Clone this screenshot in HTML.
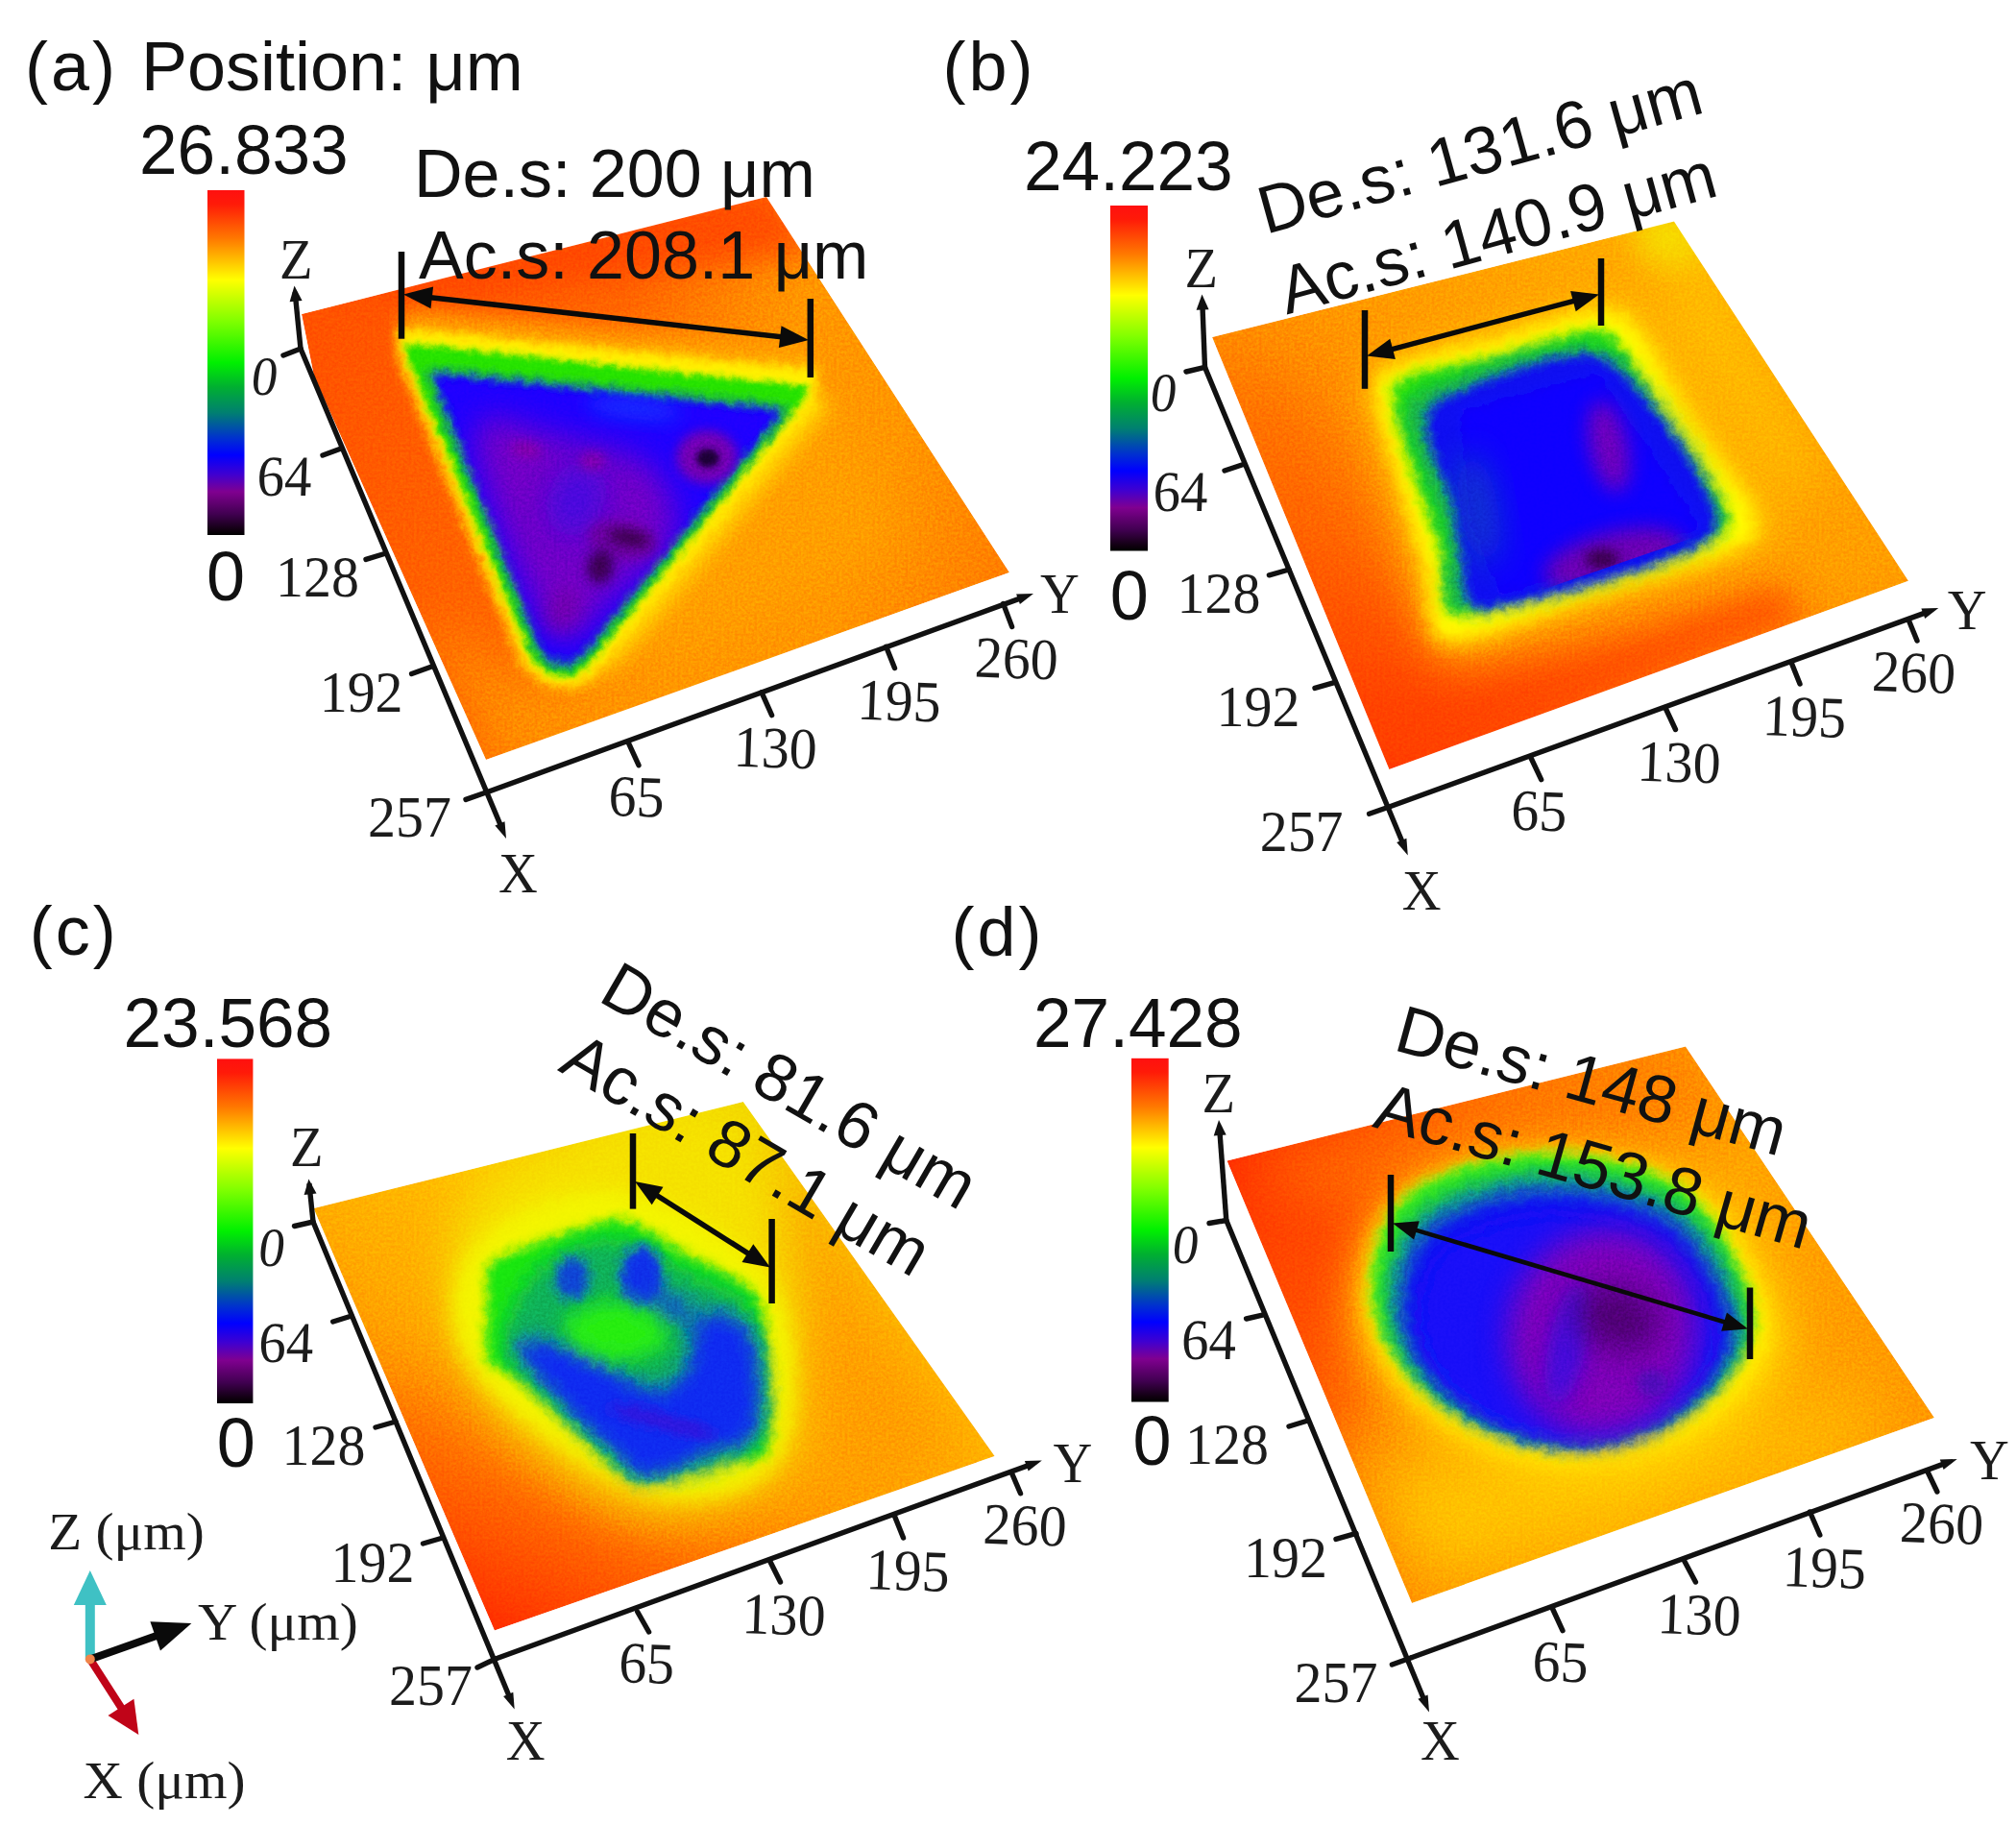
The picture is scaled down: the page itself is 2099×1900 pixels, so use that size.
<!DOCTYPE html>
<html lang="en"><head><meta charset="utf-8"><title>Figure</title>
<style>
html,body{margin:0;padding:0;background:#fff;}
body{width:2099px;height:1900px;overflow:hidden;}
svg{display:block;}
text{white-space:pre;}
</style></head><body>
<svg xmlns="http://www.w3.org/2000/svg" width="2099" height="1900" viewBox="0 0 2099 1900">
<defs>
<linearGradient id="cb" x1="0" y1="0" x2="0" y2="1">
<stop offset="0" stop-color="#ff1010"/><stop offset="0.04" stop-color="#ff1a08"/>
<stop offset="0.14" stop-color="#ff7800"/><stop offset="0.26" stop-color="#ffff00"/>
<stop offset="0.38" stop-color="#80ff00"/><stop offset="0.50" stop-color="#00f000"/>
<stop offset="0.57" stop-color="#00b030"/><stop offset="0.645" stop-color="#008070"/>
<stop offset="0.72" stop-color="#0030d0"/><stop offset="0.768" stop-color="#0000ff"/>
<stop offset="0.825" stop-color="#4000d0"/><stop offset="0.875" stop-color="#800090"/>
<stop offset="0.94" stop-color="#400050"/><stop offset="0.985" stop-color="#100010"/><stop offset="1" stop-color="#000"/>
</linearGradient>
<filter id="b3" x="-50%" y="-50%" width="200%" height="200%"><feGaussianBlur stdDeviation="3"/></filter>
<filter id="b6" x="-50%" y="-50%" width="200%" height="200%"><feGaussianBlur stdDeviation="6"/></filter>
<filter id="b10" x="-50%" y="-50%" width="200%" height="200%"><feGaussianBlur stdDeviation="10"/></filter>
<filter id="b16" x="-50%" y="-50%" width="200%" height="200%"><feGaussianBlur stdDeviation="16"/></filter>
<filter id="b25" x="-50%" y="-50%" width="200%" height="200%"><feGaussianBlur stdDeviation="25"/></filter>
<filter id="b40" x="-50%" y="-50%" width="200%" height="200%"><feGaussianBlur stdDeviation="40"/></filter>
<filter id="rough" x="-5%" y="-5%" width="110%" height="110%">
<feTurbulence type="fractalNoise" baseFrequency="0.09" numOctaves="2" seed="7" result="n"/>
<feDisplacementMap in="SourceGraphic" in2="n" scale="9" xChannelSelector="R" yChannelSelector="G"/>
</filter>
<filter id="grain" x="0" y="0" width="100%" height="100%">
<feTurbulence type="fractalNoise" baseFrequency="0.35" numOctaves="2" seed="3" result="n"/>
<feColorMatrix in="n" type="matrix" values="0 0 0 0 0.5  0 0 0 0 0.5  0 0 0 0 0.5  1.6 1.6 0 0 -1.1"/>
</filter>
<clipPath id="clip-a"><polygon points="314,327 798,205 1051,596 506,791 327,392"/></clipPath>
<linearGradient id="ga" gradientUnits="userSpaceOnUse" x1="314" y1="327" x2="1051" y2="596"><stop offset="0" stop-color="#ff4800"/><stop offset="0.4" stop-color="#ff5c00"/><stop offset="0.62" stop-color="#ff8800"/><stop offset="0.8" stop-color="#ff8800"/><stop offset="1" stop-color="#ff7000"/></linearGradient>
<clipPath id="tri-a"><polygon points="446,386 820,425 607,684 593,694 575,692 562,680"/></clipPath>
<clipPath id="clip-b"><polygon points="1262,351 1743,230.6 1987,604.8 1446.4,801"/></clipPath>
<linearGradient id="gb" gradientUnits="userSpaceOnUse" x1="1743" y1="230.6" x2="1446.4" y2="801"><stop offset="0" stop-color="#ffa400"/><stop offset="0.35" stop-color="#ff8c00"/><stop offset="0.7" stop-color="#ff6a00"/><stop offset="1" stop-color="#ff3000"/></linearGradient>
<clipPath id="sq-b"><polygon points="1500,416 1668,372 1786,552 1548,634 1522,585 1512,523 1488,461"/></clipPath>
<clipPath id="clip-c"><polygon points="326.5,1258 773.8,1147 1035.7,1516 514.9,1697.6"/></clipPath>
<linearGradient id="gc" gradientUnits="userSpaceOnUse" x1="773.8" y1="1147" x2="514.9" y2="1697.6"><stop offset="0" stop-color="#f0d000"/><stop offset="0.3" stop-color="#ffbc00"/><stop offset="0.6" stop-color="#ff8a00"/><stop offset="1" stop-color="#ff2800"/></linearGradient>
<clipPath id="clip-d"><polygon points="1277.5,1208.5 1755,1089.5 2014,1476 1470,1669"/></clipPath>
<linearGradient id="gd" gradientUnits="userSpaceOnUse" x1="1277.5" y1="1208.5" x2="2014" y2="1476"><stop offset="0" stop-color="#ff2a00"/><stop offset="0.3" stop-color="#ff6400"/><stop offset="0.65" stop-color="#ff9800"/><stop offset="1" stop-color="#ff8800"/></linearGradient>
</defs>
<rect width="2099" height="1900" fill="#fff"/>
<g id="panel-a">
<g clip-path="url(#clip-a)">
<polygon points="314,327 798,205 1051,596 506,791 327,392" fill="url(#ga)"/>
<polygon points="360,296 800,186 850,262 430,318" fill="#ff3c00" filter="url(#b16)" opacity="0.85"/>
<polygon points="420,322 850,366 852,392 420,348" fill="#ff9800" filter="url(#b10)" opacity="0.9"/>
<polygon points="850,390 940,560 700,700 600,700" fill="#ff9400" filter="url(#b25)" opacity="0.8"/>
<polygon points="842,405 866,422 640,700 596,712" fill="#ffd000" filter="url(#b10)" opacity="0.95"/>
<polygon points="440,640 560,720 900,640 760,760 520,800" fill="#ff8800" filter="url(#b25)" opacity="0.75"/>
<g filter="url(#rough)">
<polygon points="414,340 852,384 848,420 622,698 603,715 570,714 545,693 415,372" fill="#fff000" filter="url(#b6)"/>
<polygon points="423,357 842,402 836,418 615,690 600,704 574,703 554,688 424,372" fill="#20e000" filter="url(#b3)"/>
<polygon points="446,386 820,425 607,684 593,694 575,692 562,680" fill="#1010f0" filter="url(#b6)"/>
<polygon points="456,394 808,431 603,678 592,686 578,684 568,674" fill="#1a00ff" filter="url(#b3)"/>
</g>
<g clip-path="url(#tri-a)">
<ellipse cx="660" cy="425" rx="50" ry="12" transform="rotate(6 660 425)" fill="#0838ff" filter="url(#b10)" opacity="0.7"/>
<path d="M496 444C504.5 422.5 555.8 448 586 455C616.2 462 657.7 468.8 677 486C696.3 503.2 708.5 535.3 702 558C695.5 580.7 657.3 604 638 622C618.7 640 603.2 672.3 586 666C568.8 659.7 550 621 535 584C520 547 487.5 465.5 496 444Z" fill="#7800b0" filter="url(#b16)" opacity="0.8"/>
<ellipse cx="600" cy="520" rx="30" ry="40" transform="rotate(20 600 520)" fill="#2808f0" filter="url(#b16)" opacity="0.6"/>
<ellipse cx="736" cy="476" rx="32" ry="28" transform="rotate(0 736 476)" fill="#7000a0" filter="url(#b6)" opacity="0.9"/>
<ellipse cx="737" cy="477" rx="12" ry="10" transform="rotate(0 737 477)" fill="#14002c" filter="url(#b3)" opacity="0.95"/>
<ellipse cx="648" cy="562" rx="36" ry="20" transform="rotate(10 648 562)" fill="#600090" filter="url(#b6)" opacity="0.9"/>
<ellipse cx="655" cy="560" rx="22" ry="8" transform="rotate(10 655 560)" fill="#30003c" filter="url(#b6)" opacity="0.9"/>
<ellipse cx="625" cy="590" rx="14" ry="18" transform="rotate(10 625 590)" fill="#300040" filter="url(#b6)" opacity="0.9"/>
<ellipse cx="586" cy="635" rx="16" ry="24" transform="rotate(20 586 635)" fill="#68009c" filter="url(#b10)" opacity="0.8"/>
<ellipse cx="548" cy="468" rx="16" ry="8" transform="rotate(10 548 468)" fill="#800090" filter="url(#b6)" opacity="0.7"/>
<ellipse cx="617" cy="480" rx="14" ry="10" transform="rotate(0 617 480)" fill="#800090" filter="url(#b6)" opacity="0.7"/>
</g>
<rect x="314" y="205" width="737" height="586" filter="url(#grain)" opacity="0.5" style="mix-blend-mode:overlay"/>
</g>
<rect x="216" y="198" width="38.5" height="359" fill="url(#cb)"/>
<line x1="313" y1="363" x2="307.1" y2="304.1" stroke="#111" stroke-width="5.4" stroke-linecap="butt"/>
<polygon points="306.5,297.6 314.6,312.9 301.6,314.2" fill="#111"/>
<line x1="313" y1="363" x2="522.7" y2="862.8" stroke="#111" stroke-width="5.4" stroke-linecap="round"/>
<polygon points="527,873 515.4,859.5 525.5,855.2" fill="#111"/>
<line x1="506" y1="825" x2="1064.6" y2="622.1" stroke="#111" stroke-width="5.4" stroke-linecap="butt"/>
<polygon points="1076,618 1061.9,629 1058.1,618.6" fill="#111"/>
<line x1="313" y1="363" x2="295" y2="370" stroke="#111" stroke-width="5.4" stroke-linecap="round"/>
<g transform="translate(287 411) skewX(-7)"><text transform="translate(0 0) scale(0.950 1)" font-family='"Liberation Serif", "Times New Roman", Times, serif' font-size="57" text-anchor="end" fill="#1c1c1c">0</text></g>
<line x1="355" y1="467" x2="336" y2="474" stroke="#111" stroke-width="5.4" stroke-linecap="round"/>
<g transform="translate(324 516) skewX(-2)"><text transform="translate(0 0) scale(0.950 1)" font-family='"Liberation Serif", "Times New Roman", Times, serif' font-size="60" text-anchor="end" fill="#1c1c1c">64</text></g>
<line x1="400.3" y1="576.5" x2="381" y2="582.4" stroke="#111" stroke-width="5.4" stroke-linecap="round"/>
<g transform="translate(374 621.4) skewX(0)"><text transform="translate(0 0) scale(0.950 1)" font-family='"Liberation Serif", "Times New Roman", Times, serif' font-size="61" text-anchor="end" fill="#1c1c1c">128</text></g>
<line x1="449.4" y1="694" x2="428.6" y2="701.5" stroke="#111" stroke-width="5.4" stroke-linecap="round"/>
<g transform="translate(419.6 741) skewX(0)"><text transform="translate(0 0) scale(0.950 1)" font-family='"Liberation Serif", "Times New Roman", Times, serif' font-size="61" text-anchor="end" fill="#1c1c1c">192</text></g>
<line x1="506" y1="825" x2="485" y2="832.4" stroke="#111" stroke-width="5.4" stroke-linecap="round"/>
<g transform="translate(470 870.9) skewX(0)"><text transform="translate(0 0) scale(0.950 1)" font-family='"Liberation Serif", "Times New Roman", Times, serif' font-size="61" text-anchor="end" fill="#1c1c1c">257</text></g>
<line x1="654.8" y1="774.4" x2="665" y2="796.7" stroke="#111" stroke-width="5.4" stroke-linecap="round"/>
<text transform="translate(662 849.7) rotate(2) scale(0.950 1)" font-family='"Liberation Serif", "Times New Roman", Times, serif' font-size="61" text-anchor="middle" fill="#1c1c1c">65</text>
<line x1="793" y1="720.8" x2="803.6" y2="744.6" stroke="#111" stroke-width="5.4" stroke-linecap="round"/>
<text transform="translate(806.6 799.1) rotate(2) scale(0.950 1)" font-family='"Liberation Serif", "Times New Roman", Times, serif' font-size="61" text-anchor="middle" fill="#1c1c1c">130</text>
<line x1="922.6" y1="673.2" x2="931.5" y2="695.5" stroke="#111" stroke-width="5.4" stroke-linecap="round"/>
<text transform="translate(935.5 750) rotate(2) scale(0.950 1)" font-family='"Liberation Serif", "Times New Roman", Times, serif' font-size="61" text-anchor="middle" fill="#1c1c1c">195</text>
<line x1="1044.6" y1="628.6" x2="1053.6" y2="652.4" stroke="#111" stroke-width="5.4" stroke-linecap="round"/>
<text transform="translate(1057.6 705.9) rotate(2) scale(0.950 1)" font-family='"Liberation Serif", "Times New Roman", Times, serif' font-size="61" text-anchor="middle" fill="#1c1c1c">260</text>
<text transform="translate(291 290) scale(0.950 1)" font-family='"Liberation Serif", "Times New Roman", Times, serif' font-size="59.5" text-anchor="start" fill="#1c1c1c">Z</text>
<text transform="translate(519 929) scale(0.950 1)" font-family='"Liberation Serif", "Times New Roman", Times, serif' font-size="59.5" text-anchor="start" fill="#1c1c1c">X</text>
<text transform="translate(1083 638) scale(0.950 1)" font-family='"Liberation Serif", "Times New Roman", Times, serif' font-size="59.5" text-anchor="start" fill="#1c1c1c">Y</text>
<text transform="translate(26 94)" font-family='"Liberation Sans", Arial, Helvetica, sans-serif' font-size="72" text-anchor="start" fill="#111" letter-spacing="3">(a)</text>
<text transform="translate(147 94)" font-family='"Liberation Sans", Arial, Helvetica, sans-serif' font-size="72" text-anchor="start" fill="#111">Position: μm</text>
<text transform="translate(145 180.6) scale(0.975 1)" font-family='"Liberation Sans", Arial, Helvetica, sans-serif' font-size="73" text-anchor="start" fill="#111">26.833</text>
<text transform="translate(215 625)" font-family='"Liberation Sans", Arial, Helvetica, sans-serif' font-size="72" text-anchor="start" fill="#111">0</text>
<line x1="418" y1="262" x2="418" y2="352.7" stroke="#0a0a0a" stroke-width="6.5" stroke-linecap="butt"/>
<line x1="843.8" y1="311" x2="843.8" y2="393" stroke="#0a0a0a" stroke-width="6.5" stroke-linecap="butt"/>
<line x1="443.8" y1="309.2" x2="818.2" y2="351.3" stroke="#0a0a0a" stroke-width="5.6" stroke-linecap="butt"/><polygon points="842,354 810.9,362.1 813.5,339.2" fill="#0a0a0a"/><polygon points="420,306.5 451.1,298.4 448.5,321.3" fill="#0a0a0a"/>
<text transform="translate(431 205.4)" font-family='"Liberation Sans", Arial, Helvetica, sans-serif' font-size="70" text-anchor="start" fill="#111">De.s: 200 μm</text>
<text transform="translate(436 290)" font-family='"Liberation Sans", Arial, Helvetica, sans-serif' font-size="70" text-anchor="start" fill="#111">Ac.s: 208.1 μm</text>
</g>
<g id="panel-b">
<g clip-path="url(#clip-b)">
<polygon points="1262,351 1743,230.6 1987,604.8 1446.4,801" fill="url(#gb)"/>
<ellipse cx="1740" cy="250" rx="40" ry="30" transform="rotate(30 1740 250)" fill="#f4e000" filter="url(#b16)" opacity="0.9"/>
<polygon points="1760,300 1990,600 1900,640 1700,340" fill="#ff9400" filter="url(#b25)" opacity="0.8"/>
<polygon points="1262,351 1330,420 1470,700 1800,700 1446,801" fill="#ff3800" filter="url(#b40)" opacity="0.65"/>
<polygon points="1400,720 1446,801 1880,644 1850,610 1640,690 1500,740" fill="#ff3a00" filter="url(#b16)" opacity="0.75"/>
<polygon points="1750,250 1800,300 1900,500 1860,520 1730,330" fill="#ffc000" filter="url(#b25)" opacity="0.7"/>
<polygon points="1424,388 1694,316 1852,560 1504,684" fill="#ffd400" filter="url(#b25)" opacity="0.9"/>
<g filter="url(#rough)">
<path d="M1436 392C1448.4 376.1 1531.1 361.7 1560 354C1588.9 346.3 1660.7 316 1684 326C1707.3 336 1743.2 413.2 1760 440C1776.8 466.8 1839.7 535 1828 556C1816.3 577 1697.8 606.9 1660 620C1622.2 633.1 1524.5 671.5 1504 668C1483.5 664.5 1489.8 610.8 1484 590C1478.2 569.2 1459.6 513.1 1454 490C1448.4 466.9 1423.6 407.9 1436 392Z" fill="#ffff00" filter="url(#b10)"/>
<path d="M1452 399C1462.5 385.1 1534.3 377.4 1560 371C1585.7 364.6 1651.6 335.4 1672 344C1692.4 352.6 1720.2 421.2 1735 445C1749.8 468.8 1808.9 530.4 1799 548C1789.1 565.6 1683.2 585.3 1650 596C1616.8 606.7 1531.6 642.7 1514 640C1496.4 637.3 1504.1 590.5 1499 573C1493.9 555.5 1475.5 510.3 1470 490C1464.5 469.7 1441.5 412.9 1452 399Z" fill="#20dc10" filter="url(#b6)"/>
<path d="M1474 414C1495.9 400.5 1633.1 347.9 1670 364C1706.9 380.1 1806.6 520.3 1790 552C1773.4 583.7 1560.7 635.1 1528 636C1495.3 636.9 1515.4 578.2 1510 560C1504.6 541.8 1486.2 497 1482 480C1477.8 463 1452.1 427.5 1474 414Z" fill="#089060" filter="url(#b10)" opacity="0.9"/>
<path d="M1500 416C1521 405.6 1634.6 356.1 1668 372C1701.4 387.9 1800 521.4 1786 552C1772 582.6 1578.8 630.1 1548 634C1517.2 637.9 1526.2 598 1522 585C1517.8 572 1516 537.5 1512 523C1508 508.5 1489.4 473.5 1488 461C1486.6 448.5 1479 426.4 1500 416Z" fill="#0a10f0" filter="url(#b6)"/>
<polygon points="1520,428 1664,388 1772,550 1562,620 1530,540" fill="#1000ff" filter="url(#b6)"/>
</g>
<g clip-path="url(#sq-b)">
<ellipse cx="1675" cy="465" rx="20" ry="48" transform="rotate(-12 1675 465)" fill="#7800a0" filter="url(#b10)" opacity="0.8"/>
<ellipse cx="1680" cy="582" rx="74" ry="28" transform="rotate(-14 1680 582)" fill="#6a00a0" filter="url(#b10)" opacity="0.9"/>
<ellipse cx="1668" cy="582" rx="18" ry="11" transform="rotate(0 1668 582)" fill="#30003c" filter="url(#b6)" opacity="0.9"/>
<ellipse cx="1540" cy="530" rx="20" ry="60" transform="rotate(-10 1540 530)" fill="#0850a0" filter="url(#b16)" opacity="0.6"/>
</g>
<rect x="1262" y="230.6" width="725" height="570.4" filter="url(#grain)" opacity="0.5" style="mix-blend-mode:overlay"/>
</g>
<rect x="1156" y="214" width="39" height="359.5" fill="url(#cb)"/>
<line x1="1254.5" y1="382.4" x2="1251.8" y2="314.1" stroke="#111" stroke-width="5.4" stroke-linecap="butt"/>
<polygon points="1251.5,306.5 1258.6,322.2 1245.6,322.7" fill="#111"/>
<line x1="1254.5" y1="382.4" x2="1461.6" y2="880.3" stroke="#111" stroke-width="5.4" stroke-linecap="round"/>
<polygon points="1465.8,890.5 1454.2,876.9 1464.4,872.7" fill="#111"/>
<line x1="1446.4" y1="840" x2="2006.9" y2="637.1" stroke="#111" stroke-width="5.4" stroke-linecap="butt"/>
<polygon points="2018.3,633 2004.2,644 2000.4,633.6" fill="#111"/>
<line x1="1254.5" y1="382.4" x2="1235" y2="387" stroke="#111" stroke-width="5.4" stroke-linecap="round"/>
<g transform="translate(1223 428) skewX(-7)"><text transform="translate(0 0) scale(0.950 1)" font-family='"Liberation Serif", "Times New Roman", Times, serif' font-size="57" text-anchor="end" fill="#1c1c1c">0</text></g>
<line x1="1293" y1="484" x2="1275" y2="490" stroke="#111" stroke-width="5.4" stroke-linecap="round"/>
<g transform="translate(1257 532) skewX(-2)"><text transform="translate(0 0) scale(0.950 1)" font-family='"Liberation Serif", "Times New Roman", Times, serif' font-size="60" text-anchor="end" fill="#1c1c1c">64</text></g>
<line x1="1342" y1="593" x2="1321.4" y2="598.8" stroke="#111" stroke-width="5.4" stroke-linecap="round"/>
<g transform="translate(1312.4 637.8) skewX(0)"><text transform="translate(0 0) scale(0.950 1)" font-family='"Liberation Serif", "Times New Roman", Times, serif' font-size="61" text-anchor="end" fill="#1c1c1c">128</text></g>
<line x1="1390" y1="710.4" x2="1369" y2="716.4" stroke="#111" stroke-width="5.4" stroke-linecap="round"/>
<g transform="translate(1353.5 755.9) skewX(0)"><text transform="translate(0 0) scale(0.950 1)" font-family='"Liberation Serif", "Times New Roman", Times, serif' font-size="61" text-anchor="end" fill="#1c1c1c">192</text></g>
<line x1="1446.4" y1="840" x2="1425.6" y2="847.3" stroke="#111" stroke-width="5.4" stroke-linecap="round"/>
<g transform="translate(1398.6 885.8) skewX(0)"><text transform="translate(0 0) scale(0.950 1)" font-family='"Liberation Serif", "Times New Roman", Times, serif' font-size="61" text-anchor="end" fill="#1c1c1c">257</text></g>
<line x1="1594" y1="789" x2="1604.7" y2="811.6" stroke="#111" stroke-width="5.4" stroke-linecap="round"/>
<text transform="translate(1601.7 864.6) rotate(2) scale(0.950 1)" font-family='"Liberation Serif", "Times New Roman", Times, serif' font-size="61" text-anchor="middle" fill="#1c1c1c">65</text>
<line x1="1734" y1="737" x2="1744.5" y2="759.5" stroke="#111" stroke-width="5.4" stroke-linecap="round"/>
<text transform="translate(1747.5 814) rotate(2) scale(0.950 1)" font-family='"Liberation Serif", "Times New Roman", Times, serif' font-size="61" text-anchor="middle" fill="#1c1c1c">130</text>
<line x1="1865" y1="689.6" x2="1874" y2="712" stroke="#111" stroke-width="5.4" stroke-linecap="round"/>
<text transform="translate(1878 766.5) rotate(2) scale(0.950 1)" font-family='"Liberation Serif", "Times New Roman", Times, serif' font-size="61" text-anchor="middle" fill="#1c1c1c">195</text>
<line x1="1987" y1="645" x2="1996" y2="667" stroke="#111" stroke-width="5.4" stroke-linecap="round"/>
<text transform="translate(1992 720.5) rotate(2) scale(0.950 1)" font-family='"Liberation Serif", "Times New Roman", Times, serif' font-size="61" text-anchor="middle" fill="#1c1c1c">260</text>
<text transform="translate(1233.6 299) scale(0.950 1)" font-family='"Liberation Serif", "Times New Roman", Times, serif' font-size="59.5" text-anchor="start" fill="#1c1c1c">Z</text>
<text transform="translate(1459.8 947) scale(0.950 1)" font-family='"Liberation Serif", "Times New Roman", Times, serif' font-size="59.5" text-anchor="start" fill="#1c1c1c">X</text>
<text transform="translate(2027.7 655) scale(0.950 1)" font-family='"Liberation Serif", "Times New Roman", Times, serif' font-size="59.5" text-anchor="start" fill="#1c1c1c">Y</text>
<text transform="translate(981.6 94)" font-family='"Liberation Sans", Arial, Helvetica, sans-serif' font-size="72" text-anchor="start" fill="#111" letter-spacing="3">(b)</text>
<text transform="translate(1066 198.4) scale(0.975 1)" font-family='"Liberation Sans", Arial, Helvetica, sans-serif' font-size="73" text-anchor="start" fill="#111">24.223</text>
<text transform="translate(1155.7 645)" font-family='"Liberation Sans", Arial, Helvetica, sans-serif' font-size="72" text-anchor="start" fill="#111">0</text>
<line x1="1421" y1="323" x2="1421" y2="404.8" stroke="#0a0a0a" stroke-width="6.5" stroke-linecap="butt"/>
<line x1="1667" y1="269" x2="1667" y2="339" stroke="#0a0a0a" stroke-width="6.5" stroke-linecap="butt"/>
<line x1="1444.7" y1="364.8" x2="1643.3" y2="312.2" stroke="#0a0a0a" stroke-width="5.4" stroke-linecap="butt"/><polygon points="1665,306.5 1640.7,324.3 1635.1,303" fill="#0a0a0a"/><polygon points="1423,370.5 1447.3,352.7 1452.9,374" fill="#0a0a0a"/>
<text transform="translate(1317.7 244) rotate(-15.5)" font-family='"Liberation Sans", Arial, Helvetica, sans-serif' font-size="70" text-anchor="start" fill="#111">De.s: 131.6 μm</text>
<text transform="translate(1339.8 327.5) rotate(-15.4)" font-family='"Liberation Sans", Arial, Helvetica, sans-serif' font-size="70" text-anchor="start" fill="#111">Ac.s: 140.9 μm</text>
</g>
<g id="panel-c">
<g clip-path="url(#clip-c)">
<polygon points="326.5,1258 773.8,1147 1035.7,1516 514.9,1697.6" fill="url(#gc)"/>
<polygon points="800,1180 1036,1516 880,1580 780,1330" fill="#ff8c00" filter="url(#b40)" opacity="0.9"/>
<polygon points="333,1257 470,1225 450,1420 400,1420" fill="#ffa800" filter="url(#b40)" opacity="0.7"/>
<path d="M470 1290C480 1248.3 511.7 1223.3 560 1200C608.3 1176.7 715.7 1128.3 760 1150C804.3 1171.7 815.3 1285 826 1330C836.7 1375 827 1385.8 824 1420C821 1454.2 834.7 1509.7 808 1535C781.3 1560.3 715.3 1586.2 664 1572C612.7 1557.8 532.3 1497 500 1450C467.7 1403 460 1331.7 470 1290Z" fill="#f4e000" filter="url(#b25)" opacity="0.95"/>
<g filter="url(#rough)">
<path d="M492 1300C517.2 1269 590.7 1233.3 643 1240C695.3 1246.7 777.8 1294 806 1340C834.2 1386 833.7 1480.3 812 1516C790.3 1551.7 729.3 1569 676 1554C622.7 1539 522.7 1468.3 492 1426C461.3 1383.7 466.8 1331 492 1300Z" fill="#f2f600" filter="url(#b10)" opacity="0.95"/>
<path d="M514 1312C527.6 1303 623.1 1269.8 643 1269C662.9 1268.2 698.1 1295.5 713 1304C727.9 1312.5 783.3 1333.4 792 1354C800.7 1374.6 804.2 1493.4 800 1510C795.8 1526.6 762.4 1516.6 750 1520C737.6 1523.4 685.9 1542.3 676 1544C666.1 1545.7 660.7 1544.1 651 1537C641.3 1529.9 590.2 1483.1 579 1473C567.8 1462.9 546.2 1441.7 539 1436C531.8 1430.3 510.2 1423.7 507 1416C503.8 1408.3 506.3 1369.4 507 1359C507.7 1348.6 500.4 1321 514 1312Z" fill="#18e410" filter="url(#b6)"/>
<path d="M560 1322C579 1303 613.3 1289.3 640 1290C666.7 1290.7 696.3 1313 720 1326C743.7 1339 770.3 1339 782 1368C793.7 1397 807.7 1472 790 1500C772.3 1528 709.3 1542.7 676 1536C642.7 1529.3 615 1482 590 1460C565 1438 531 1427 526 1404C521 1381 541 1341 560 1322Z" fill="#08a058" filter="url(#b10)" opacity="0.9"/>
<path d="M536 1400C537.7 1389 576 1396.3 600 1404C624 1411.7 660.7 1443.3 680 1446C699.3 1448.7 709 1431 716 1420C723 1409 716.3 1389 722 1380C727.7 1371 739.3 1363.3 750 1366C760.7 1368.7 779.7 1375.3 786 1396C792.3 1416.7 795.7 1470.3 788 1490C780.3 1509.7 759.3 1505.7 740 1514C720.7 1522.3 688.7 1539.8 672 1540C655.3 1540.2 653.7 1526.7 640 1515C626.3 1503.3 607.3 1489.2 590 1470C572.7 1450.8 534.3 1411 536 1400Z" fill="#0828f0" filter="url(#b10)"/>
<ellipse cx="596" cy="1331" rx="17" ry="24" transform="rotate(0 596 1331)" fill="#0a38d8" filter="url(#b6)" opacity="0.95"/>
<ellipse cx="668" cy="1330" rx="22" ry="34" transform="rotate(0 668 1330)" fill="#0a28f0" filter="url(#b6)" opacity="0.95"/>
<ellipse cx="700" cy="1362" rx="30" ry="16" transform="rotate(30 700 1362)" fill="#0a40d0" filter="url(#b10)" opacity="0.8"/>
<path d="M590 1372C596.7 1363.7 624 1354 640 1354C656 1354 677 1364.7 686 1372C695 1379.3 700 1390.3 694 1398C688 1405.7 665.7 1417 650 1418C634.3 1419 610 1411.7 600 1404C590 1396.3 583.3 1380.3 590 1372Z" fill="#22f010" filter="url(#b10)" opacity="0.95"/>
<ellipse cx="690" cy="1480" rx="60" ry="8" transform="rotate(15 690 1480)" fill="#5000c0" filter="url(#b6)" opacity="0.5"/>
</g>
<rect x="326.5" y="1147" width="709.2" height="550.6" filter="url(#grain)" opacity="0.5" style="mix-blend-mode:overlay"/>
</g>
<rect x="226" y="1102.4" width="37.4" height="358.6" fill="url(#cb)"/>
<line x1="326" y1="1272" x2="321.9" y2="1231.9" stroke="#111" stroke-width="5.4" stroke-linecap="butt"/>
<polygon points="321.4,1227.4 329.5,1242.6 316.6,1244" fill="#111"/>
<line x1="326" y1="1272" x2="531.5" y2="1769.3" stroke="#111" stroke-width="5.4" stroke-linecap="round"/>
<polygon points="535.7,1779.5 524.1,1765.9 534.3,1761.7" fill="#111"/>
<line x1="516" y1="1727" x2="1073.4" y2="1524.6" stroke="#111" stroke-width="5.4" stroke-linecap="butt"/>
<polygon points="1084.8,1520.5 1070.7,1531.5 1066.9,1521.1" fill="#111"/>
<line x1="326" y1="1272" x2="306.5" y2="1276.5" stroke="#111" stroke-width="5.4" stroke-linecap="round"/>
<g transform="translate(294.5 1317.5) skewX(-7)"><text transform="translate(0 0) scale(0.950 1)" font-family='"Liberation Serif", "Times New Roman", Times, serif' font-size="57" text-anchor="end" fill="#1c1c1c">0</text></g>
<line x1="366" y1="1370" x2="346.7" y2="1376" stroke="#111" stroke-width="5.4" stroke-linecap="round"/>
<g transform="translate(325.7 1418) skewX(-2)"><text transform="translate(0 0) scale(0.950 1)" font-family='"Liberation Serif", "Times New Roman", Times, serif' font-size="60" text-anchor="end" fill="#1c1c1c">64</text></g>
<line x1="412" y1="1480" x2="391" y2="1486" stroke="#111" stroke-width="5.4" stroke-linecap="round"/>
<g transform="translate(380.5 1525) skewX(0)"><text transform="translate(0 0) scale(0.950 1)" font-family='"Liberation Serif", "Times New Roman", Times, serif' font-size="61" text-anchor="end" fill="#1c1c1c">128</text></g>
<line x1="461" y1="1601" x2="440.5" y2="1607" stroke="#111" stroke-width="5.4" stroke-linecap="round"/>
<g transform="translate(431.5 1646.5) skewX(0)"><text transform="translate(0 0) scale(0.950 1)" font-family='"Liberation Serif", "Times New Roman", Times, serif' font-size="61" text-anchor="end" fill="#1c1c1c">192</text></g>
<line x1="516" y1="1727" x2="497" y2="1736" stroke="#111" stroke-width="5.4" stroke-linecap="round"/>
<g transform="translate(492 1774.5) skewX(0)"><text transform="translate(0 0) scale(0.950 1)" font-family='"Liberation Serif", "Times New Roman", Times, serif' font-size="61" text-anchor="end" fill="#1c1c1c">257</text></g>
<line x1="663.7" y1="1678" x2="675.6" y2="1699" stroke="#111" stroke-width="5.4" stroke-linecap="round"/>
<text transform="translate(672.6 1752) rotate(2) scale(0.950 1)" font-family='"Liberation Serif", "Times New Roman", Times, serif' font-size="61" text-anchor="middle" fill="#1c1c1c">65</text>
<line x1="802" y1="1626" x2="812.5" y2="1647" stroke="#111" stroke-width="5.4" stroke-linecap="round"/>
<text transform="translate(815.5 1701.5) rotate(2) scale(0.950 1)" font-family='"Liberation Serif", "Times New Roman", Times, serif' font-size="61" text-anchor="middle" fill="#1c1c1c">130</text>
<line x1="931.5" y1="1578.6" x2="940.5" y2="1601" stroke="#111" stroke-width="5.4" stroke-linecap="round"/>
<text transform="translate(944.5 1655.5) rotate(2) scale(0.950 1)" font-family='"Liberation Serif", "Times New Roman", Times, serif' font-size="61" text-anchor="middle" fill="#1c1c1c">195</text>
<line x1="1053.6" y1="1534" x2="1062.5" y2="1554.8" stroke="#111" stroke-width="5.4" stroke-linecap="round"/>
<text transform="translate(1066.5 1608.3) rotate(2) scale(0.950 1)" font-family='"Liberation Serif", "Times New Roman", Times, serif' font-size="61" text-anchor="middle" fill="#1c1c1c">260</text>
<text transform="translate(302 1214) scale(0.950 1)" font-family='"Liberation Serif", "Times New Roman", Times, serif' font-size="59.5" text-anchor="start" fill="#1c1c1c">Z</text>
<text transform="translate(526.8 1831.5) scale(0.950 1)" font-family='"Liberation Serif", "Times New Roman", Times, serif' font-size="59.5" text-anchor="start" fill="#1c1c1c">X</text>
<text transform="translate(1096.6 1543) scale(0.950 1)" font-family='"Liberation Serif", "Times New Roman", Times, serif' font-size="59.5" text-anchor="start" fill="#1c1c1c">Y</text>
<text transform="translate(30.7 994)" font-family='"Liberation Sans", Arial, Helvetica, sans-serif' font-size="72" text-anchor="start" fill="#111" letter-spacing="3">(c)</text>
<text transform="translate(128.5 1089.5) scale(0.975 1)" font-family='"Liberation Sans", Arial, Helvetica, sans-serif' font-size="73" text-anchor="start" fill="#111">23.568</text>
<text transform="translate(225.7 1526.5)" font-family='"Liberation Sans", Arial, Helvetica, sans-serif' font-size="72" text-anchor="start" fill="#111">0</text>
<line x1="659" y1="1180" x2="659" y2="1258.6" stroke="#0a0a0a" stroke-width="6.5" stroke-linecap="butt"/>
<line x1="803.6" y1="1269" x2="803.6" y2="1357" stroke="#0a0a0a" stroke-width="6.5" stroke-linecap="butt"/>
<line x1="679.9" y1="1242" x2="783.1" y2="1307.6" stroke="#0a0a0a" stroke-width="5.6" stroke-linecap="butt"/><polygon points="802,1319.6 772.5,1313.9 784.3,1295.3" fill="#0a0a0a"/><polygon points="661,1230 690.5,1235.7 678.7,1254.3" fill="#0a0a0a"/>
<text transform="translate(621.3 1041) rotate(30.2)" font-family='"Liberation Sans", Arial, Helvetica, sans-serif' font-size="70" text-anchor="start" fill="#111">De.s: 81.6 μm</text>
<text transform="translate(579.8 1114) rotate(30.3)" font-family='"Liberation Sans", Arial, Helvetica, sans-serif' font-size="70" text-anchor="start" fill="#111">Ac.s: 87.1 μm</text>
</g>
<g id="panel-d">
<g clip-path="url(#clip-d)">
<polygon points="1277.5,1208.5 1755,1089.5 2014,1476 1470,1669" fill="url(#gd)"/>
<polygon points="1400,1500 1700,1530 1940,1450 1960,1500 1480,1660" fill="#ffc400" filter="url(#b40)" opacity="0.95"/>
<polygon points="1290,1215 1420,1190 1440,1330 1360,1420" fill="#ff3c00" filter="url(#b40)" opacity="0.6"/>
<polygon points="1300,1215 1755,1090 1800,1160 1400,1260" fill="#ff6a00" filter="url(#b25)" opacity="0.6"/>
<path d="M1415.1 1353.8C1417.5 1321.4 1427.1 1275.8 1459.9 1250.8C1492.8 1225.8 1559 1204.7 1612.2 1203.8C1665.4 1202.8 1737.9 1216.5 1779.1 1245.2C1820.4 1273.9 1850.4 1340.6 1859.8 1376.2C1869.1 1411.9 1853.2 1434.7 1835.1 1459.1C1817 1483.6 1783.6 1508.6 1751.1 1523C1718.6 1537.3 1677.2 1546.7 1640.2 1545.4C1603.3 1544.1 1561.8 1531.7 1529.4 1515.1C1496.9 1498.5 1464.4 1472.6 1445.4 1445.7C1426.3 1418.8 1412.7 1386.3 1415.1 1353.8Z" fill="#ffd800" filter="url(#b25)" opacity="0.95"/>
<g filter="url(#rough)">
<path d="M1422 1341.1C1424.3 1310.6 1433.2 1268 1464 1244.5C1494.8 1221 1557 1201.3 1606.8 1200.4C1656.7 1199.5 1724.6 1212.3 1763.3 1239.2C1802 1266.2 1830.2 1328.7 1838.9 1362.1C1847.7 1395.5 1832.8 1416.9 1815.8 1439.8C1798.8 1462.7 1767.5 1486.2 1737 1499.7C1706.6 1513.1 1667.8 1521.9 1633.1 1520.7C1598.4 1519.4 1559.6 1507.9 1529.2 1492.3C1498.7 1476.7 1468.2 1452.4 1450.4 1427.2C1432.6 1402 1419.8 1371.5 1422 1341.1Z" fill="#fff200" filter="url(#b10)"/>
<path d="M1427 1334C1429.2 1305 1437.7 1264.3 1467 1242C1496.3 1219.7 1555.5 1200.8 1603 1200C1650.5 1199.2 1715.2 1211.3 1752 1237C1788.8 1262.7 1815.7 1322.2 1824 1354C1832.3 1385.8 1818.2 1406.2 1802 1428C1785.8 1449.8 1756 1472.2 1727 1485C1698 1497.8 1661 1506.2 1628 1505C1595 1503.8 1558 1492.8 1529 1478C1500 1463.2 1471 1440 1454 1416C1437 1392 1424.8 1363 1427 1334Z" fill="#30e818" filter="url(#b6)"/>
<path d="M1443.9 1344.3C1445.9 1317.3 1453.9 1279.5 1481.1 1258.7C1508.4 1237.9 1563.4 1220.4 1607.6 1219.6C1651.8 1218.9 1711.9 1230.2 1746.2 1254C1780.4 1277.9 1805.4 1333.3 1813.1 1362.9C1820.9 1392.5 1807.7 1411.4 1792.7 1431.7C1777.6 1452 1749.9 1472.8 1722.9 1484.7C1696 1496.6 1661.5 1504.4 1630.9 1503.3C1600.2 1502.2 1565.8 1492 1538.8 1478.2C1511.8 1464.4 1484.8 1442.8 1469 1420.5C1453.2 1398.2 1441.9 1371.2 1443.9 1344.3Z" fill="#08a060" filter="url(#b10)" opacity="0.95"/>
<path d="M1450.9 1348.8C1452.9 1322.7 1460.5 1286.1 1486.9 1266C1513.3 1245.9 1566.5 1229 1609.3 1228.2C1652 1227.5 1710.2 1238.4 1743.4 1261.5C1776.6 1284.6 1800.7 1338.1 1808.2 1366.8C1815.7 1395.5 1803 1413.8 1788.4 1433.4C1773.9 1453.1 1747 1473.2 1720.9 1484.7C1694.8 1496.2 1661.5 1503.8 1631.8 1502.7C1602.1 1501.7 1568.8 1491.8 1542.7 1478.4C1516.6 1465.1 1490.5 1444.2 1475.2 1422.6C1459.9 1401 1449 1374.9 1450.9 1348.8Z" fill="#087898" filter="url(#b10)" opacity="0.9"/>
<path d="M1459.9 1355.5C1461.7 1330.6 1469 1295.6 1494.3 1276.4C1519.5 1257.2 1570.4 1241 1611.2 1240.3C1652.1 1239.6 1707.7 1250 1739.4 1272.1C1771 1294.2 1794.1 1345.3 1801.3 1372.7C1808.4 1400.1 1796.3 1417.6 1782.4 1436.4C1768.5 1455.1 1742.8 1474.3 1717.9 1485.4C1692.9 1496.4 1661.1 1503.6 1632.7 1502.6C1604.3 1501.6 1572.5 1492.1 1547.6 1479.4C1522.6 1466.6 1497.7 1446.7 1483.1 1426C1468.5 1405.4 1458 1380.5 1459.9 1355.5Z" fill="#1010f4" filter="url(#b10)"/>
<path d="M1479.8 1368.3C1481.4 1346.3 1487.9 1315.4 1510.2 1298.4C1532.5 1281.4 1577.4 1267.1 1613.5 1266.5C1649.6 1265.8 1698.8 1275.1 1726.8 1294.6C1754.8 1314.1 1775.1 1359.3 1781.5 1383.5C1787.8 1407.7 1777 1423.2 1764.8 1439.8C1752.5 1456.4 1729.8 1473.3 1707.8 1483.1C1685.7 1492.8 1657.6 1499.2 1632.5 1498.3C1607.4 1497.4 1579.3 1489 1557.3 1477.8C1535.2 1466.5 1513.2 1448.9 1500.3 1430.6C1487.4 1412.4 1478.1 1390.4 1479.8 1368.3Z" fill="#1808f8" filter="url(#b10)"/>
</g>
<ellipse cx="1668" cy="1388" rx="98" ry="108" transform="rotate(15 1668 1388)" fill="#7a00a8" filter="url(#b16)" opacity="0.9"/>
<ellipse cx="1632" cy="1400" rx="20" ry="64" transform="rotate(12 1632 1400)" fill="#2808e8" filter="url(#b10)" opacity="0.7"/>
<ellipse cx="1684" cy="1372" rx="46" ry="34" transform="rotate(20 1684 1372)" fill="#40005c" filter="url(#b16)" opacity="0.85"/>
<ellipse cx="1720" cy="1440" rx="16" ry="14" transform="rotate(0 1720 1440)" fill="#3810b0" filter="url(#b6)" opacity="0.7"/>
<rect x="1277.5" y="1089.5" width="736.5" height="579.5" filter="url(#grain)" opacity="0.5" style="mix-blend-mode:overlay"/>
</g>
<rect x="1178" y="1101.8" width="38.7" height="357.7" fill="url(#cb)"/>
<line x1="1276.8" y1="1270.5" x2="1269.8" y2="1176.5" stroke="#111" stroke-width="5.4" stroke-linecap="butt"/>
<polygon points="1269,1166 1276.7,1181.5 1263.7,1182.4" fill="#111"/>
<line x1="1276.8" y1="1270.5" x2="1483.8" y2="1772.2" stroke="#111" stroke-width="5.4" stroke-linecap="round"/>
<polygon points="1488,1782.4 1476.4,1768.8 1486.6,1764.6" fill="#111"/>
<line x1="1468.8" y1="1726" x2="2026.3" y2="1523.1" stroke="#111" stroke-width="5.4" stroke-linecap="butt"/>
<polygon points="2037.7,1519 2023.6,1530 2019.8,1519.6" fill="#111"/>
<line x1="1276.8" y1="1270.5" x2="1259" y2="1273.5" stroke="#111" stroke-width="5.4" stroke-linecap="round"/>
<g transform="translate(1246 1314.5) skewX(-7)"><text transform="translate(0 0) scale(0.950 1)" font-family='"Liberation Serif", "Times New Roman", Times, serif' font-size="57" text-anchor="end" fill="#1c1c1c">0</text></g>
<line x1="1315.5" y1="1368.8" x2="1297.6" y2="1373" stroke="#111" stroke-width="5.4" stroke-linecap="round"/>
<g transform="translate(1286.6 1415) skewX(-2)"><text transform="translate(0 0) scale(0.950 1)" font-family='"Liberation Serif", "Times New Roman", Times, serif' font-size="60" text-anchor="end" fill="#1c1c1c">64</text></g>
<line x1="1361.6" y1="1479" x2="1342" y2="1485" stroke="#111" stroke-width="5.4" stroke-linecap="round"/>
<g transform="translate(1321 1524) skewX(0)"><text transform="translate(0 0) scale(0.950 1)" font-family='"Liberation Serif", "Times New Roman", Times, serif' font-size="61" text-anchor="end" fill="#1c1c1c">128</text></g>
<line x1="1412" y1="1596.4" x2="1391" y2="1602.4" stroke="#111" stroke-width="5.4" stroke-linecap="round"/>
<g transform="translate(1382 1641.9) skewX(0)"><text transform="translate(0 0) scale(0.950 1)" font-family='"Liberation Serif", "Times New Roman", Times, serif' font-size="61" text-anchor="end" fill="#1c1c1c">192</text></g>
<line x1="1468.8" y1="1726" x2="1449.4" y2="1733" stroke="#111" stroke-width="5.4" stroke-linecap="round"/>
<g transform="translate(1434.4 1771.5) skewX(0)"><text transform="translate(0 0) scale(0.950 1)" font-family='"Liberation Serif", "Times New Roman", Times, serif' font-size="61" text-anchor="end" fill="#1c1c1c">257</text></g>
<line x1="1616.6" y1="1675" x2="1627" y2="1697.6" stroke="#111" stroke-width="5.4" stroke-linecap="round"/>
<text transform="translate(1624 1750.6) rotate(2) scale(0.950 1)" font-family='"Liberation Serif", "Times New Roman", Times, serif' font-size="61" text-anchor="middle" fill="#1c1c1c">65</text>
<line x1="1753.5" y1="1624.7" x2="1765.4" y2="1647" stroke="#111" stroke-width="5.4" stroke-linecap="round"/>
<text transform="translate(1768.4 1701.5) rotate(2) scale(0.950 1)" font-family='"Liberation Serif", "Times New Roman", Times, serif' font-size="61" text-anchor="middle" fill="#1c1c1c">130</text>
<line x1="1884.4" y1="1574" x2="1894.8" y2="1598" stroke="#111" stroke-width="5.4" stroke-linecap="round"/>
<text transform="translate(1898.8 1652.5) rotate(2) scale(0.950 1)" font-family='"Liberation Serif", "Times New Roman", Times, serif' font-size="61" text-anchor="middle" fill="#1c1c1c">195</text>
<line x1="2006.4" y1="1531" x2="2016.9" y2="1553" stroke="#111" stroke-width="5.4" stroke-linecap="round"/>
<text transform="translate(2020.9 1606.5) rotate(2) scale(0.950 1)" font-family='"Liberation Serif", "Times New Roman", Times, serif' font-size="61" text-anchor="middle" fill="#1c1c1c">260</text>
<text transform="translate(1251.5 1157.5) scale(0.950 1)" font-family='"Liberation Serif", "Times New Roman", Times, serif' font-size="59.5" text-anchor="start" fill="#1c1c1c">Z</text>
<text transform="translate(1479 1831.5) scale(0.950 1)" font-family='"Liberation Serif", "Times New Roman", Times, serif' font-size="59.5" text-anchor="start" fill="#1c1c1c">X</text>
<text transform="translate(2051 1540) scale(0.950 1)" font-family='"Liberation Serif", "Times New Roman", Times, serif' font-size="59.5" text-anchor="start" fill="#1c1c1c">Y</text>
<text transform="translate(990.5 995)" font-family='"Liberation Sans", Arial, Helvetica, sans-serif' font-size="72" text-anchor="start" fill="#111" letter-spacing="3">(d)</text>
<text transform="translate(1076 1089.5) scale(0.975 1)" font-family='"Liberation Sans", Arial, Helvetica, sans-serif' font-size="73" text-anchor="start" fill="#111">27.428</text>
<text transform="translate(1179.5 1525)" font-family='"Liberation Sans", Arial, Helvetica, sans-serif' font-size="72" text-anchor="start" fill="#111">0</text>
<line x1="1448" y1="1223" x2="1448" y2="1303" stroke="#0a0a0a" stroke-width="6.5" stroke-linecap="butt"/>
<line x1="1822" y1="1340.5" x2="1822" y2="1415" stroke="#0a0a0a" stroke-width="6.5" stroke-linecap="butt"/>
<line x1="1469.9" y1="1279.4" x2="1800.1" y2="1377.7" stroke="#0a0a0a" stroke-width="4.6" stroke-linecap="butt"/><polygon points="1820,1383.6 1792.2,1385.8 1797.9,1366.6" fill="#0a0a0a"/><polygon points="1450,1273.5 1477.8,1271.3 1472.1,1290.5" fill="#0a0a0a"/>
<text transform="translate(1449.4 1092.7) rotate(15.4)" font-family='"Liberation Sans", Arial, Helvetica, sans-serif' font-size="70" text-anchor="start" fill="#111">De.s: 148 μm</text>
<text transform="translate(1427.8 1172.7) rotate(15.9)" font-family='"Liberation Sans", Arial, Helvetica, sans-serif' font-size="70" text-anchor="start" fill="#111">Ac.s: 153.8 μm</text>
</g>
<g id="legend">
<line x1="93.8" y1="1727.4" x2="93.8" y2="1663.8" stroke="#3fc1c4" stroke-width="10" stroke-linecap="butt"/><polygon points="93.8,1635 110.8,1671 76.8,1671" fill="#3fc1c4"/>
<line x1="93.8" y1="1727.4" x2="129.6" y2="1783.1" stroke="#c00418" stroke-width="8" stroke-linecap="butt"/><polygon points="144.3,1806 112.5,1786.1 139.4,1768.7" fill="#c00418"/>
<line x1="93.8" y1="1727.4" x2="169.2" y2="1700.7" stroke="#0a0a0a" stroke-width="8" stroke-linecap="butt"/><polygon points="199.4,1690 167,1718.4 156.4,1688.3" fill="#0a0a0a"/>
<circle cx="93.8" cy="1727.4" r="5" fill="#f0854a"/>
<text transform="translate(50.3 1612.8) scale(1.060 1)" font-family='"Liberation Serif", "Times New Roman", Times, serif' font-size="54" text-anchor="start" fill="#1c1c1c">Z (μm)</text>
<text transform="translate(206 1706.5) scale(1.060 1)" font-family='"Liberation Serif", "Times New Roman", Times, serif' font-size="54" text-anchor="start" fill="#1c1c1c">Y (μm)</text>
<text transform="translate(86.6 1871.7) scale(1.060 1)" font-family='"Liberation Serif", "Times New Roman", Times, serif' font-size="54" text-anchor="start" fill="#1c1c1c">X (μm)</text>
</g>
</svg>
</body></html>
